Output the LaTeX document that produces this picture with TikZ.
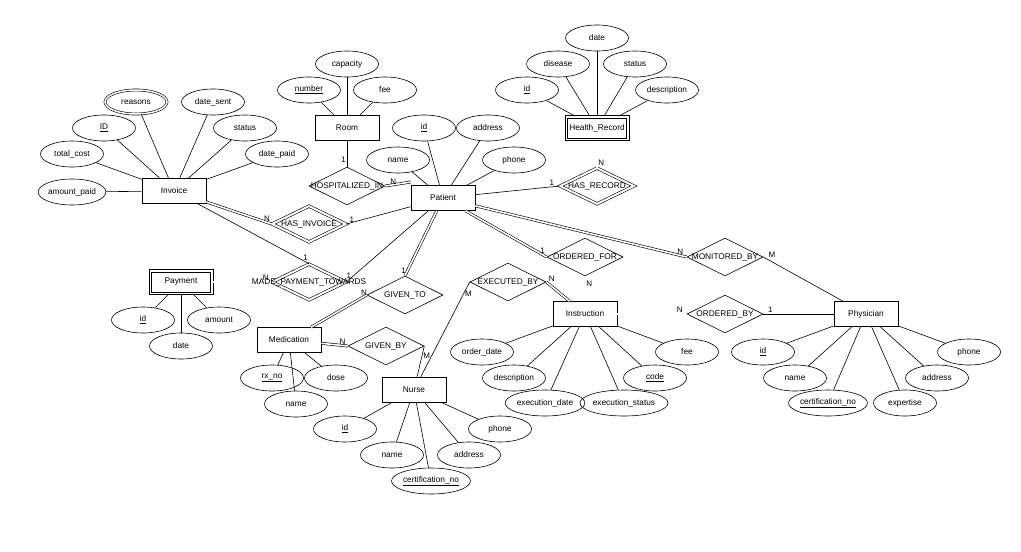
\documentclass[tikz,border=0pt]{standalone}
\usepackage{fontspec}
\setmainfont{Liberation Sans}
\usetikzlibrary{shapes.geometric}
\begin{document}
\begin{tikzpicture}[x=1pt,y=-1pt,line width=0.6pt,
  font=\fontsize{8.3}{10}\selectfont,
  ent/.style={draw,rectangle,minimum width=64pt,minimum height=25pt,inner sep=0pt},
  att/.style={draw,ellipse,minimum width=63pt,minimum height=26pt,inner sep=0pt},
  watt/.style={draw,ellipse,minimum width=62pt,minimum height=24pt,inner sep=0pt,double,double distance=1.5pt},
  rel/.style={draw,diamond,minimum width=76pt,minimum height=38pt,inner sep=0pt},
  wrel/.style={draw,diamond,minimum width=74pt,minimum height=36pt,inner sep=0pt,double,double distance=2pt},
  dl/.style={double,double distance=1.6pt},
  card/.style={font=\fontsize{8}{9}\selectfont,inner sep=1pt}]
\useasboundingbox (0,0) rectangle (1021,552);
% entities
\node[ent] (inv) at (174,191) {Invoice};
\node[ent] (room) at (347,128) {Room};
\node[ent] (pat) at (443,198) {Patient};
\node[ent] (hr) at (597,128) {Health\_Record};
\draw ([shift={(3,3)}]hr.north west) rectangle ([shift={(-3,-3)}]hr.south east);
\node[ent] (pay) at (181,282) {Payment};
\draw ([shift={(3,3)}]pay.north west) rectangle ([shift={(-3,-3)}]pay.south east);
\node[ent] (med) at (289,340) {Medication};
\node[ent] (nur) at (414,390) {Nurse};
\node[ent] (ins) at (585,314) {Instruction};
\node[ent] (phy) at (866,314) {Physician};
% relationships
\node[rel,label=center:HOSPITALIZED\_IN] (hosp) at (347,186) {};
\node[wrel,label=center:HAS\_INVOICE] (hinv) at (309,224) {};
\node[wrel] (mpt) at (309,282) {};
\node[rel,label=center:HAS\_RECORD,double,double distance=2pt,minimum width=74pt,minimum height=36pt] (hrec) at (597,186) {};
\node[rel,label=center:ORDERED\_FOR] (ofor) at (585,257) {};
\node[rel,label=center:MONITORED\_BY] (mon) at (725,257) {};
\node[rel,label=center:EXECUTED\_BY] (exe) at (508,282) {};
\node[rel,label=center:GIVEN\_TO] (gto) at (405,295) {};
\node[rel,label=center:GIVEN\_BY] (gby) at (386,346) {};
\node[rel,label=center:ORDERED\_BY] (oby) at (725,314) {};
% attributes
\node[watt] (a1) at (136,102) {reasons};
\node[att] (a2) at (213,102) {date\_sent};
\node[att] (a3) at (104,128) {\underline{ID}};
\node[att] (a4) at (245,128) {status};
\node[att] (a5) at (72,154) {total\_cost};
\node[att] (a6) at (277,154) {date\_paid};
\node[att] (a7) at (72,192) {amount\_paid};
\foreach \a in {a1,a2,a3,a4,a5,a6,a7} \draw (inv) -- (\a);
\node[att] (r1) at (347,64) {capacity};
\node[att] (r2) at (309,90) {\underline{number}};
\node[att] (r3) at (385,90) {fee};
\foreach \a in {r1,r2,r3} \draw (room) -- (\a);
\node[att] (p1) at (424,128) {\underline{id}};
\node[att] (p2) at (488,128) {address};
\node[att] (p3) at (398,160) {name};
\node[att] (p4) at (514,160) {phone};
\foreach \a in {p1,p2,p3,p4} \draw (pat) -- (\a);
\node[att] (h1) at (597,38) {date};
\node[att] (h2) at (558,64) {disease};
\node[att] (h3) at (635,64) {status};
\node[att] (h4) at (527,90) {\underline{id}};
\node[att] (h5) at (667,90) {description};
\foreach \a in {h1,h2,h3,h4,h5} \draw (hr) -- (\a);
\node[att] (y1) at (143,320) {\underline{id}};
\node[att] (y2) at (219,320) {amount};
\node[att] (y3) at (181,346) {date};
\foreach \a in {y1,y2,y3} \draw (pay) -- (\a);
\node[att] (m1) at (272,378) {\underline{rx\_no}};
\node[att] (m2) at (336,378) {dose};
\node[att] (m3) at (296,404) {name};
\foreach \a in {m1,m2,m3} \draw (med) -- (\a);
\node[att] (n1) at (345,429) {\underline{id}};
\node[att] (n2) at (500,429) {phone};
\node[att] (n3) at (392,455) {name};
\node[att] (n4) at (469,455) {address};
\node[att] (n5) at (431,481) {\underline{certification\_no}};
\foreach \a in {n1,n2,n3,n4,n5} \draw (nur) -- (\a);
\node[att] (i1) at (482,352) {order\_date};
\node[att] (i2) at (514,378) {description};
\node[att,minimum width=60pt] (i3) at (545,403) {execution\_date};
\node[att,minimum width=62pt] (i4) at (624,403) {execution\_status};
\node[att] (i5) at (655,378) {\underline{code}};
\node[att] (i6) at (687,352) {fee};
\foreach \a in {i1,i2,i3,i4,i5,i6} \draw (ins) -- (\a);
\node[att] (f1) at (763,352) {\underline{id}};
\node[att] (f2) at (795,378) {name};
\node[att] (f3) at (828,403) {\underline{certification\_no}};
\node[att] (f4) at (905,403) {expertise};
\node[att] (f5) at (937,378) {address};
\node[att] (f6) at (969,352) {phone};
\foreach \a in {f1,f2,f3,f4,f5,f6} \draw (phy) -- (\a);
% relationship connectors
\draw (room) -- (hosp.north) node[card,pos=0.75,left] {1};
\draw[dl] (hosp.east) -- (pat.west|-0,182) node[card,pos=0.15,above right] {N};
\draw[dl] (inv) -- (hinv.west) node[card,pos=0.93,above] {N};
\draw (hinv.east) -- (pat) node[card,pos=0.03,above right] {1};
\draw (inv) -- (mpt.north) node[card,pos=0.97,above] {1};
\draw[dl] (pay) -- (mpt.west) node[card,pos=0.9,above] {N};
\draw (mpt.east) -- (pat) node[card,pos=0.03,above] {1};
\node at (309,282) {MADE\_PAYMENT\_TOWARDS};
\draw (pat) -- (hrec.west) node[card,pos=0.95,above left] {1};
\draw[dl] (hr) -- (hrec.north) node[card,pos=0.8,right] {N};
\draw[dl] (pat) -- (gto.north) node[card,pos=0.93,left] {1};
\draw[dl] (gto.west) -- (med) node[card,pos=0.05,above] {N};
\draw[dl] (med) -- (gby.west) node[card,pos=0.8,above] {N};
\draw (gby.east) -- (nur) node[card,pos=0.3,right] {M};
\draw (nur) -- (exe.west) node[card,pos=0.88,right] {M};
\draw[dl] (exe.east) -- (ins) node[card,pos=0.05,above right] {N};
\draw[dl] (pat) -- (ofor.west) node[card,pos=0.95,above] {1};
\draw[dl] (ofor.south) -- (ins) node[card,pos=0.3,right] {N};
\draw[dl] (pat) -- (mon.west) node[card,pos=0.97,above] {N};
\draw (mon.east) -- (phy) node[card,pos=0.05,above right] {M};
\draw[dl] (ins) -- (oby.west) node[card,pos=0.9,above] {N};
\draw (oby.east) -- (phy) node[card,pos=0.1,above] {1};
\end{tikzpicture}
\end{document}
